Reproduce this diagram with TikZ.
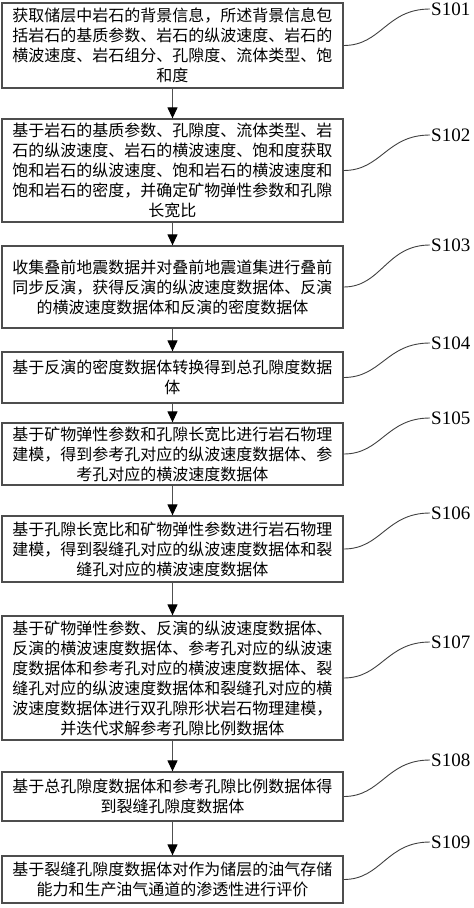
\documentclass[tikz,border=0pt]{standalone}
\usepackage{fontspec}
\setmainfont{Liberation Serif}
\newfontfamily\cjk{Noto Sans CJK SC}
\usetikzlibrary{arrows.meta}
\definecolor{boxgray}{HTML}{4D4D4D}
\definecolor{arrgray}{HTML}{505050}
\definecolor{leadgray}{HTML}{404040}
\begin{document}
\begin{tikzpicture}[x=1pt,y=-1pt,
  stepbox/.style={draw=boxgray, line width=1.3pt, minimum width=341pt, inner sep=0pt,
    text width=330pt, align=center, font=\cjk\fontsize{16}{20}\selectfont},
  arr/.style={draw=arrgray, line width=1.2pt, -{Triangle[width=10pt,length=11pt,color=black]}},
  lead/.style={draw=leadgray, line width=0.9pt},
  lab/.style={font=\fontsize{19}{20}\selectfont, inner sep=1pt, anchor=west}]
\useasboundingbox (0,0) rectangle (474,908);

\node[stepbox, minimum height=85pt] (b1) at (172.5,45.5) {获取储层中岩石的背景信息，所述背景信息包\\括岩石的基质参数、岩石的纵波速度、岩石的\\横波速度、岩石组分、孔隙度、流体类型、饱\\和度};
\node[stepbox, minimum height=103pt] (b2) at (172.5,170.5) {基于岩石的基质参数、孔隙度、流体类型、岩\\石的纵波速度、岩石的横波速度、饱和度获取\\饱和岩石的纵波速度、饱和岩石的横波速度和\\饱和岩石的密度，并确定矿物弹性参数和孔隙\\长宽比};
\node[stepbox, minimum height=82pt] (b3) at (172.5,287) {收集叠前地震数据并对叠前地震道集进行叠前\\同步反演，获得反演的纵波速度数据体、反演\\的横波速度数据体和反演的密度数据体};
\node[stepbox, minimum height=51pt] (b4) at (172.5,377.5) {基于反演的密度数据体转换得到总孔隙度数据\\体};
\node[stepbox, minimum height=62pt] (b5) at (172.5,454) {基于矿物弹性参数和孔隙长宽比进行岩石物理\\建模，得到参考孔对应的纵波速度数据体、参\\考孔对应的横波速度数据体};
\node[stepbox, minimum height=66pt] (b6) at (172.5,549) {基于孔隙长宽比和矿物弹性参数进行岩石物理\\建模，得到裂缝孔对应的纵波速度数据体和裂\\缝孔对应的横波速度数据体};
\node[stepbox, minimum height=124pt] (b7) at (172.5,678) {基于矿物弹性参数、反演的纵波速度数据体、\\反演的横波速度数据体、参考孔对应的纵波速\\度数据体和参考孔对应的横波速度数据体、裂\\缝孔对应的纵波速度数据体和裂缝孔对应的横\\波速度数据体进行双孔隙形状岩石物理建模，\\并迭代求解参考孔隙比例数据体};
\node[stepbox, minimum height=49pt] (b8) at (172.5,796.5) {基于总孔隙度数据体和参考孔隙比例数据体得\\到裂缝孔隙度数据体};
\node[stepbox, minimum height=47pt] (b9) at (172.5,879.5) {基于裂缝孔隙度数据体对作为储层的油气存储\\能力和生产油气通道的渗透性进行评价};

\foreach \a/\b in {b1/b2,b2/b3,b3/b4,b4/b5,b5/b6,b6/b7,b7/b8,b8/b9}
  \draw[arr] (\a) -- (\b);

\node[lab] (s1) at (430,9) {S101};
\node[lab] (s2) at (430,135) {S102};
\node[lab] (s3) at (430,245) {S103};
\node[lab] (s4) at (430,343) {S104};
\node[lab] (s5) at (430,418) {S105};
\node[lab] (s6) at (430,513) {S106};
\node[lab] (s7) at (430,642) {S107};
\node[lab] (s8) at (430,760) {S108};
\node[lab] (s9) at (430,842) {S109};

\foreach \i in {1,...,9}
  \draw[lead] (b\i.east) .. controls +(38,0) and +(-44,0) .. (s\i.west);
\end{tikzpicture}
\end{document}
